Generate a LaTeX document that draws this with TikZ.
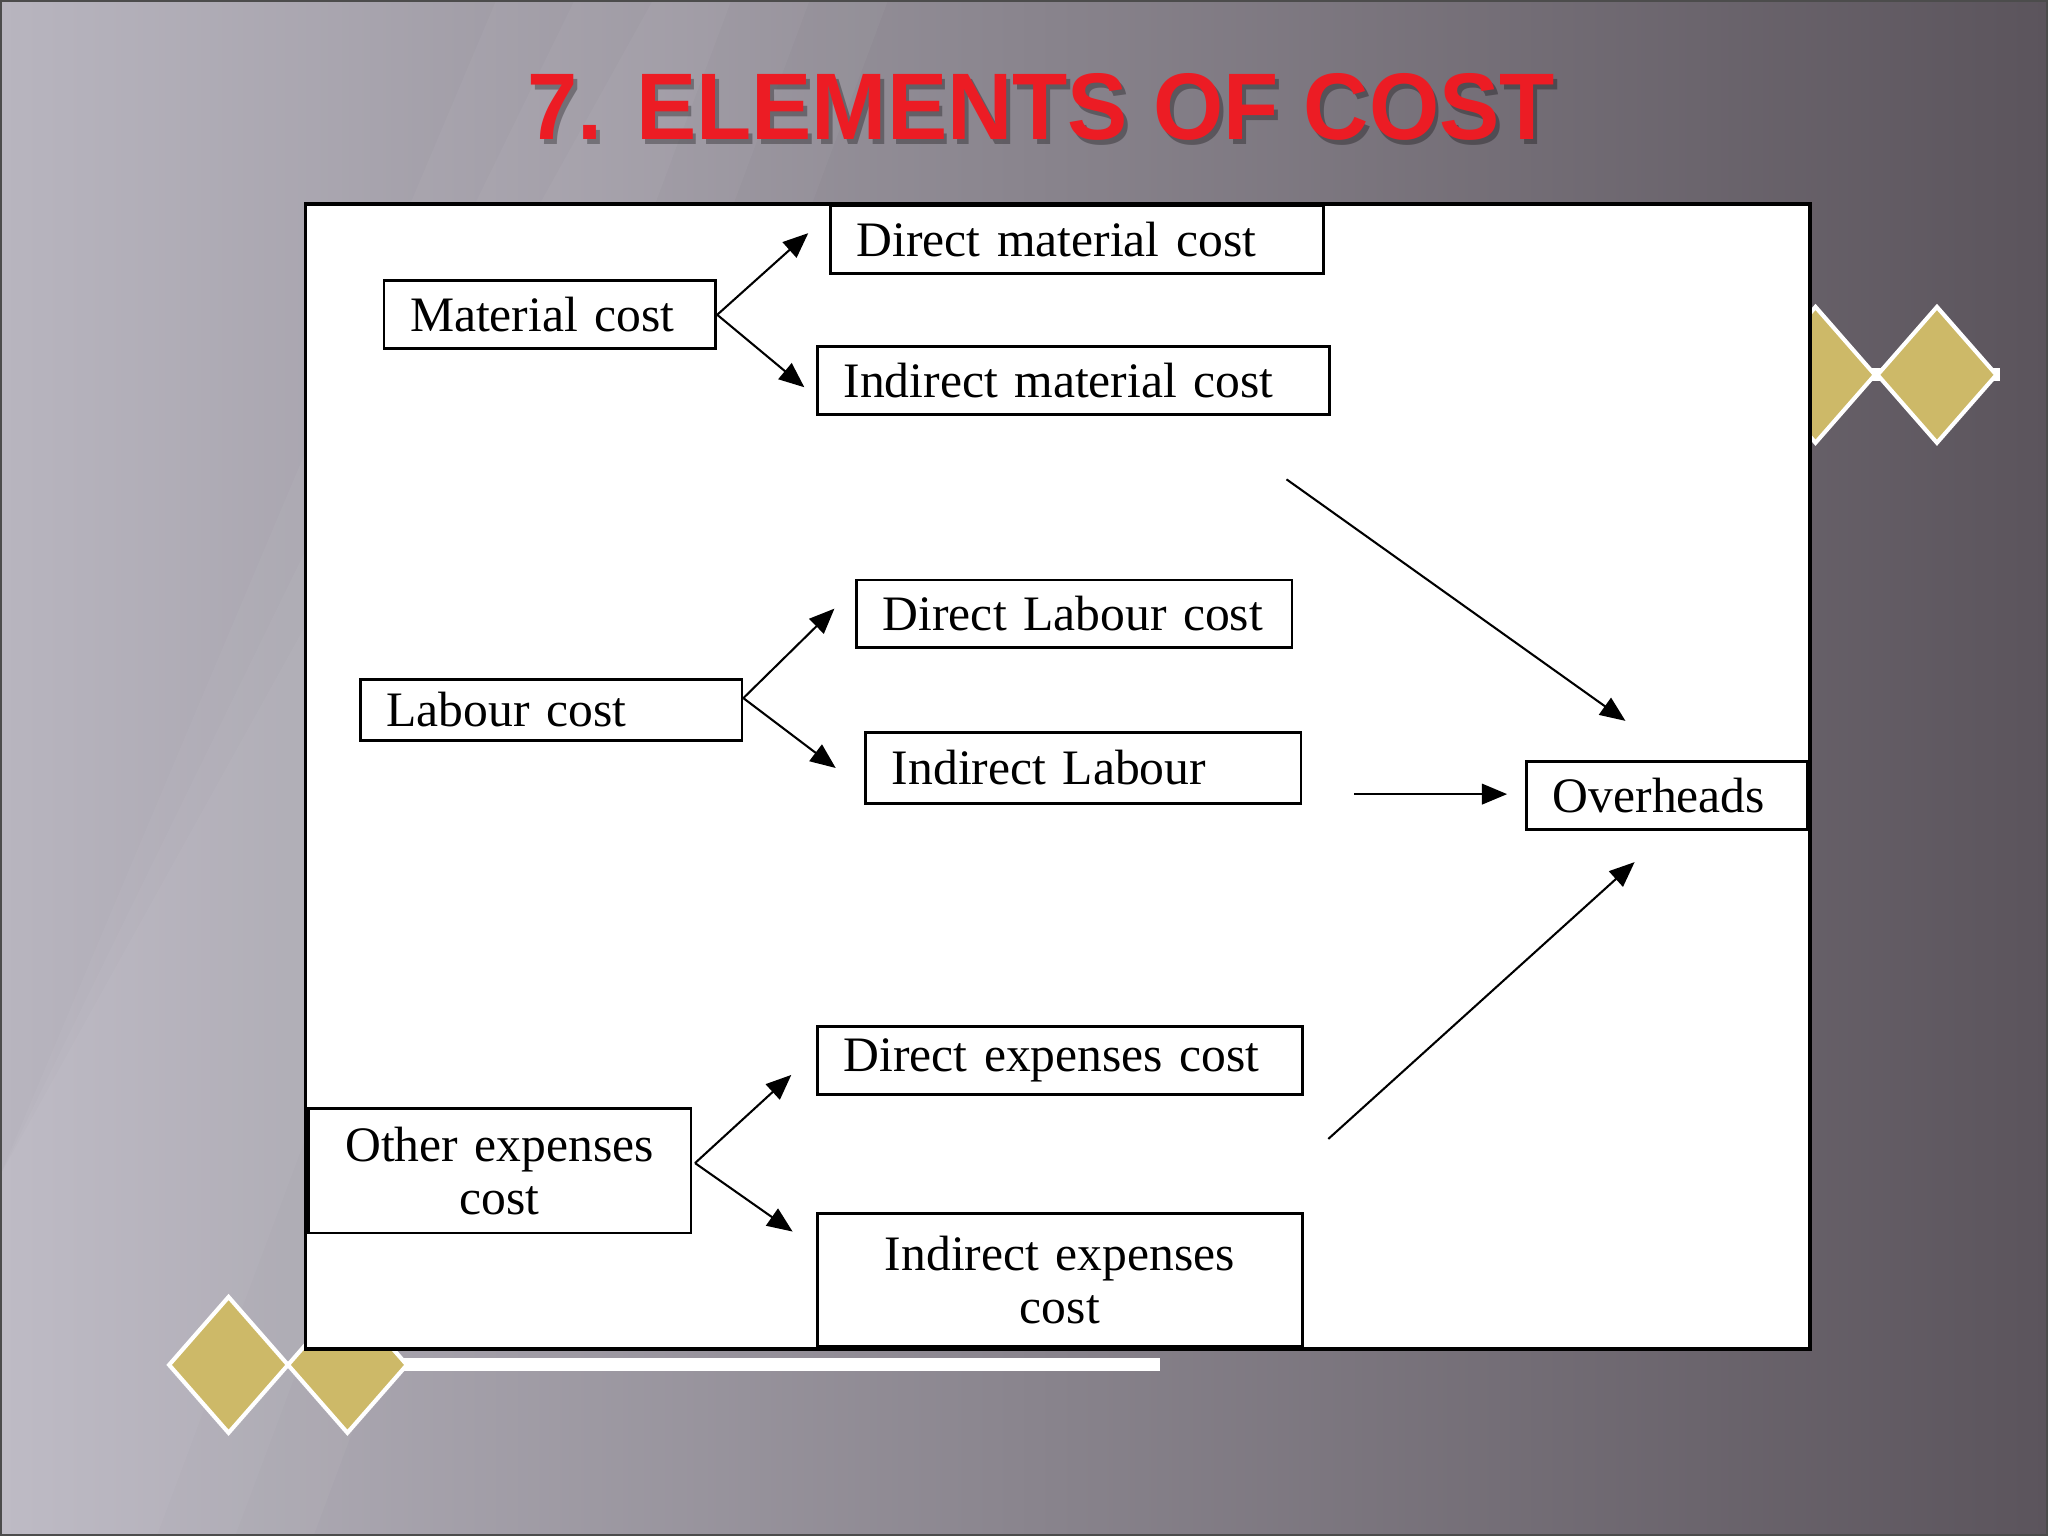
\documentclass[tikz,border=0pt]{standalone}
\usepackage{fontspec}
\setmainfont{Liberation Serif}
\newfontfamily\headfont{Liberation Sans}
\usetikzlibrary{
    arrows.meta,
    calc,
    positioning
}
\definecolor{bgleft}{HTML}{B8B5BF}
\definecolor{bgmid}{HTML}{8A8790}
\definecolor{bgright}{HTML}{5B545C}
\definecolor{khaki}{HTML}{CDB968}
\definecolor{titlered}{HTML}{EC1C24}

\begin{document}
\begin{tikzpicture}[x=0.01cm, y=-0.01cm,
    costbox/.style={draw, fill=white, line width=0.6pt, inner xsep=2mm, inner ysep=0pt,
        align=left, minimum height=5.2mm, font=\fontsize{10.8}{11.6}\selectfont},
    link/.style={line width=0.45pt, -{Triangle[length=5.5pt, width=4.5pt]}},
    gem/.style={fill=khaki, draw=white, line width=0.9pt},
    bar/.style={draw=white, line width=2.8pt},
    headline/.style={font=\headfont\bfseries\fontsize{20.6}{24}\selectfont,
        xscale=0.955, transform shape, anchor=base}]
                        \useasboundingbox (0,0) rectangle (1568,1176);
                        \shade[left color=bgleft, middle color=bgmid, right color=bgright] (0,0) rectangle (1568,1176);
                        \foreach \dx in {0, 60, 120}
                            \fill[white, opacity=0.035] (380+\dx,0) -- (560+\dx,0) -- (120+\dx,1176) -- (0,1176) -- (0,900) -- cycle;
                        \draw[black!70, line width=1pt] (0,0) rectangle (1568,1176);

                        \draw[bar] (234,1045) -- (888,1045);
                        \draw[bar] (1386,287) -- (1531,287);
                        \foreach \cx/\cy in {175/1045, 266/1045, 1390/287, 1483/287}
                            \filldraw[gem] (\cx,\cy-52) -- ++(45.5,52) -- ++(-45.5,52) -- ++(-45.5,-52) -- cycle;

                        \filldraw[fill=white, draw=black, line width=0.8pt] (234,156) rectangle (1386,1033);

                        \node[headline, text=black, opacity=0.3] (shade) at (800,111) {7. ELEMENTS OF COST};
                        \node[headline, text=titlered] (title) at (797,107) {7. ELEMENTS OF COST};

                        \node[costbox, text width=21.4mm] (mat) at (421,241) {Material cost};
                        \node[costbox, text width=33.7mm] (dmat) at (824.5,183.5) {Direct material cost};
                        \node[costbox, text width=35.2mm] (imat) at (822,291.5) {Indirect material cost};
                        \node[costbox, text width=29.3mm] (dlab) at (822.5,470) {Direct Labour cost};
                        \node[costbox, text width=25.2mm, minimum height=4.7mm] (lab) at (422,543.5) {Labour cost};
                        \node[costbox, text width=29.3mm, minimum height=5.4mm] (ilab) at (829.5,588) {Indirect Labour};
                        \node[costbox, text width=17.5mm] (ovh) at (1276.5,609) {Overheads};
                        \node[costbox, text width=33.1mm] (dexp) at (811.5,812) {Direct expenses cost};
                        \node[costbox, text width=25.3mm, minimum height=9.5mm, align=center] (oexp) at (382.5,896.5) {Other expenses\\cost};
                        \node[costbox, text width=33.1mm, minimum height=10.2mm, align=center] (iexp) at (811.5,980) {Indirect expenses\\cost};

                        \coordinate (mtail) at (985,367);
                        \coordinate (ltail) at (1037,608);
                        \coordinate (etail) at (1017,872);

                        \path
                        (mat.east) edge[link] ($(dmat.west)+(-16,-5)$)
                        (mat.east) edge[link] ($(imat.west)+(-9,5)$)
                        ($(lab.east)+(0,-9)$) edge[link] ($(dlab.west)+(-16,-4)$)
                        ($(lab.east)+(0,-9)$) edge[link] ($(ilab.west)+(-22,0)$)
                        ($(oexp.east)+(2,-6)$) edge[link] ($(dexp.west)+(-19,11)$)
                        ($(oexp.east)+(2,-6)$) edge[link] ($(iexp.north west)+(-18,15)$)
                        (mtail) edge[link] ($(ovh.north)+(-32,-30)$)
                        (ltail) edge[link] ($(ovh.west)+(-14,-1)$)
                        (etail) edge[link] ($(ovh.south)+(-25,24)$);
                    \end{tikzpicture}
\end{document}
